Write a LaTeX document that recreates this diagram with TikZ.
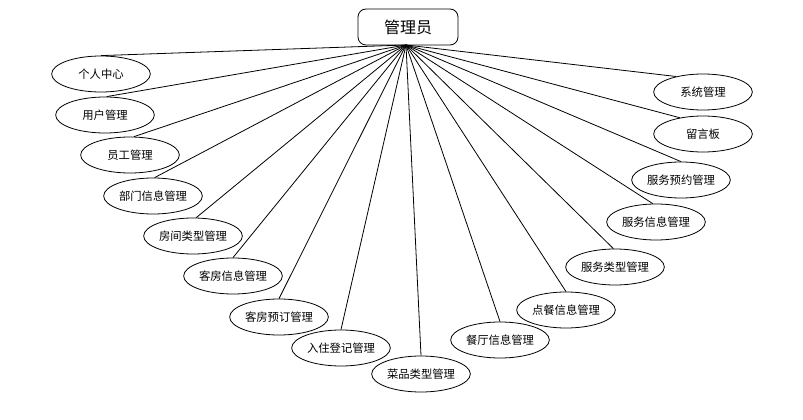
\documentclass[tikz,border=0pt]{standalone}
\usepackage{fontspec}
\setmainfont{Noto Sans CJK SC}
\usetikzlibrary{shapes.geometric}
\begin{document}
\begin{tikzpicture}[x=0.75pt,y=-0.75pt,
  ell/.style={ellipse,draw,line width=0.6pt,minimum width=74pt,minimum height=27pt,inner sep=0pt,font=\fontsize{8.5}{10}\selectfont},
  topbox/.style={draw,rounded corners=6pt,line width=0.6pt,minimum width=75pt,minimum height=27pt,inner sep=0pt,font=\fontsize{12}{14}\selectfont},
  conn/.style={line width=0.6pt}]
\useasboundingbox (0,0) rectangle (803,420);
\node[topbox] (top) at (408,27) {管理员};
\coordinate (apex) at (406,45);
\node[ell] (e1) at (101,74) {个人中心};
\node[ell] (e2) at (105,115) {用户管理};
\node[ell] (e3) at (130,155) {员工管理};
\node[ell] (e4) at (153,196) {部门信息管理};
\node[ell] (e5) at (193,236) {房间类型管理};
\node[ell] (e6) at (233,276) {客房信息管理};
\node[ell] (e7) at (279,317) {客房预订管理};
\node[ell] (e8) at (341,348) {入住登记管理};
\node[ell] (e9) at (421,374) {菜品类型管理};
\node[ell] (e10) at (500,340) {餐厅信息管理};
\node[ell] (e11) at (566,310) {点餐信息管理};
\node[ell] (e12) at (615,267) {服务类型管理};
\node[ell] (e13) at (656,222) {服务信息管理};
\node[ell] (e14) at (681,180) {服务预约管理};
\node[ell] (e15) at (703,134) {留言板};
\node[ell] (e16) at (703,92) {系统管理};
\draw[conn] (apex) -- (e1.north);
\draw[conn] (apex) -- (e2.85);
\draw[conn] (apex) -- (e3.78);
\draw[conn] (apex) -- (e4.85);
\draw[conn] (apex) -- (e5.80);
\draw[conn] (apex) -- (e6.north);
\draw[conn] (apex) -- (e7.north);
\draw[conn] (apex) -- (e8.north);
\draw[conn] (apex) -- (e9.north);
\draw[conn] (apex) -- (e10.north);
\draw[conn] (apex) -- (e11.north);
\draw[conn] (apex) -- (e12.95);
\draw[conn] (apex) -- (e13.100);
\draw[conn] (apex) -- (e14.north);
\draw[conn] (apex) -- (e15.145);
\draw[conn] (apex) -- (e16.150);
\end{tikzpicture}
\end{document}
